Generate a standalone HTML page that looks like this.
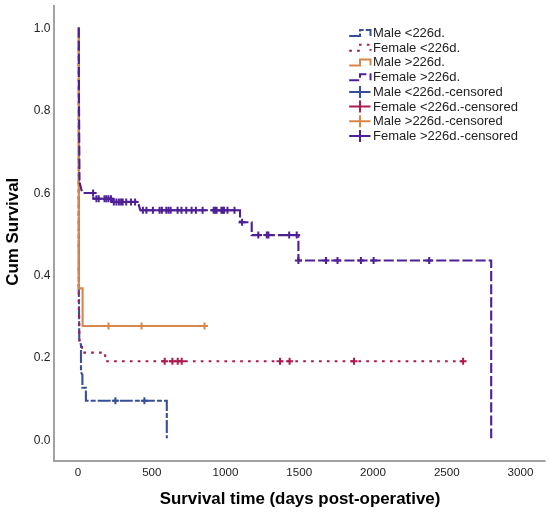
<!DOCTYPE html>
<html><head><meta charset="utf-8"><title>Survival Functions</title>
<style>
html,body{margin:0;padding:0;background:#fff;}
body{width:550px;height:513px;overflow:hidden;}
svg{display:block;}
.tk{font-family:"Liberation Sans",Arial,sans-serif;font-size:11.6px;fill:#222222;}
.tky{font-family:"Liberation Sans",Arial,sans-serif;font-size:12px;fill:#222222;}
.lg{font-family:"Liberation Sans",Arial,sans-serif;font-size:13px;fill:#222;}
.ttl{font-family:"Liberation Sans",Arial,sans-serif;font-size:16.9px;font-weight:bold;fill:#000;}
</style></head>
<body>
<svg width="550" height="513" viewBox="0 0 550 513">
<rect width="550" height="513" fill="#fff"/>
<line x1="54" y1="5" x2="54" y2="461.9" stroke="#a2a2a2" stroke-width="2"/>
<line x1="53" y1="460.9" x2="545.6" y2="460.9" stroke="#a2a2a2" stroke-width="2"/>
<text x="50.4" y="443.5" text-anchor="end" class="tky">0.0</text>
<text x="50.4" y="361.2" text-anchor="end" class="tky">0.2</text>
<text x="50.4" y="278.9" text-anchor="end" class="tky">0.4</text>
<text x="50.4" y="196.7" text-anchor="end" class="tky">0.6</text>
<text x="50.4" y="114.4" text-anchor="end" class="tky">0.8</text>
<text x="50.4" y="32.1" text-anchor="end" class="tky">1.0</text>
<text x="78.0" y="476.3" text-anchor="middle" class="tk">0</text>
<text x="151.8" y="476.3" text-anchor="middle" class="tk">500</text>
<text x="225.5" y="476.3" text-anchor="middle" class="tk">1000</text>
<text x="299.2" y="476.3" text-anchor="middle" class="tk">1500</text>
<text x="373.0" y="476.3" text-anchor="middle" class="tk">2000</text>
<text x="446.8" y="476.3" text-anchor="middle" class="tk">2500</text>
<text x="520.5" y="476.3" text-anchor="middle" class="tk">3000</text>
<text x="300" y="504.2" text-anchor="middle" class="ttl">Survival time (days post-operative)</text>
<text transform="translate(18.3,231.7) rotate(-90)" text-anchor="middle" class="ttl">Cum Survival</text>
<path d="M78.8,27.6 V290 L79.3,340 L81,345 V372 L82.4,375 V387.7 H85.9 V400.8 H166.8 V438.2" stroke="#374f96" stroke-width="2.1" fill="none" stroke-dasharray="13 2.05 5 2.05" stroke-dashoffset="8.71"/>
<path d="M78.8,27.6 V300 L79.5,343 L82,346.8 V352.6 H105.2 V361.2 H463.1" stroke="#ad1a52" stroke-width="2.1" fill="none" stroke-dasharray="2.7 5.18" stroke-dashoffset="3.92"/>
<path d="M78.8,27.6 V288.4 H82.6 V326 H204.5" stroke="#d8874a" stroke-width="2.1" fill="none"/>
<path d="M78.8,27.6 L79.0,100 L79.5,180.5" stroke="#4e2096" stroke-width="2.1" fill="none" stroke-dasharray="10.1 3.02" stroke-dashoffset="0"/>
<path d="M79.6,182.5 L81.8,191.3" stroke="#4e2096" stroke-width="2.1" fill="none"/>
<path d="M83.6,193.0 H93.3 V198.7 H112 V201.9 H138 L140.2,210.2" stroke="#4e2096" stroke-width="2.1" fill="none" stroke-dasharray="10.1 3.02" stroke-dashoffset="0"/>
<path d="M140.2,210.2 H240 V222.2 H251.7 V235.1 H298.4 V260.5 H491.2 V438.2" stroke="#4e2096" stroke-width="2.1" fill="none" stroke-dasharray="10.1 3.02" stroke-dashoffset="7.94"/>
<path d="M111.9,400.8H118.9M115.4,397.3V404.3" stroke="#374f96" stroke-width="2.0" fill="none"/>
<path d="M140.9,400.8H147.9M144.4,397.3V404.3" stroke="#374f96" stroke-width="2.0" fill="none"/>
<path d="M161.2,361.2H168.2M164.7,357.7V364.7" stroke="#ad1a52" stroke-width="2.0" fill="none"/>
<path d="M168.9,361.2H175.9M172.4,357.7V364.7" stroke="#ad1a52" stroke-width="2.0" fill="none"/>
<path d="M174.2,361.2H181.2M177.7,357.7V364.7" stroke="#ad1a52" stroke-width="2.0" fill="none"/>
<path d="M178.2,361.2H185.2M181.7,357.7V364.7" stroke="#ad1a52" stroke-width="2.0" fill="none"/>
<path d="M276.5,361.2H283.5M280.0,357.7V364.7" stroke="#ad1a52" stroke-width="2.0" fill="none"/>
<path d="M286.1,361.2H293.1M289.6,357.7V364.7" stroke="#ad1a52" stroke-width="2.0" fill="none"/>
<path d="M350.5,361.2H357.5M354.0,357.7V364.7" stroke="#ad1a52" stroke-width="2.0" fill="none"/>
<path d="M459.6,361.2H466.6M463.1,357.7V364.7" stroke="#ad1a52" stroke-width="2.0" fill="none"/>
<path d="M105.0,326.0H112.0M108.5,322.5V329.5" stroke="#d8874a" stroke-width="2.0" fill="none"/>
<path d="M138.0,326.0H145.0M141.5,322.5V329.5" stroke="#d8874a" stroke-width="2.0" fill="none"/>
<path d="M201.0,326.0H208.0M204.5,322.5V329.5" stroke="#d8874a" stroke-width="2.0" fill="none"/>
<path d="M89.6,193.0H96.6M93.1,189.5V196.5" stroke="#4e2096" stroke-width="2.0" fill="none"/>
<path d="M92.9,198.7H99.9M96.4,195.2V202.2" stroke="#4e2096" stroke-width="2.0" fill="none"/>
<path d="M95.2,198.7H102.2M98.7,195.2V202.2" stroke="#4e2096" stroke-width="2.0" fill="none"/>
<path d="M101.0,198.7H108.0M104.5,195.2V202.2" stroke="#4e2096" stroke-width="2.0" fill="none"/>
<path d="M102.9,198.7H109.9M106.4,195.2V202.2" stroke="#4e2096" stroke-width="2.0" fill="none"/>
<path d="M105.0,198.7H112.0M108.5,195.2V202.2" stroke="#4e2096" stroke-width="2.0" fill="none"/>
<path d="M107.5,198.7H114.5M111.0,195.2V202.2" stroke="#4e2096" stroke-width="2.0" fill="none"/>
<path d="M110.3,201.9H117.3M113.8,198.4V205.4" stroke="#4e2096" stroke-width="2.0" fill="none"/>
<path d="M112.9,201.9H119.9M116.4,198.4V205.4" stroke="#4e2096" stroke-width="2.0" fill="none"/>
<path d="M115.4,201.9H122.4M118.9,198.4V205.4" stroke="#4e2096" stroke-width="2.0" fill="none"/>
<path d="M117.6,201.9H124.6M121.1,198.4V205.4" stroke="#4e2096" stroke-width="2.0" fill="none"/>
<path d="M119.2,201.9H126.2M122.7,198.4V205.4" stroke="#4e2096" stroke-width="2.0" fill="none"/>
<path d="M122.7,201.9H129.7M126.2,198.4V205.4" stroke="#4e2096" stroke-width="2.0" fill="none"/>
<path d="M127.5,201.9H134.5M131.0,198.4V205.4" stroke="#4e2096" stroke-width="2.0" fill="none"/>
<path d="M131.6,201.9H138.6M135.1,198.4V205.4" stroke="#4e2096" stroke-width="2.0" fill="none"/>
<path d="M139.4,210.2H146.4M142.9,206.7V213.7" stroke="#4e2096" stroke-width="2.0" fill="none"/>
<path d="M142.9,210.2H149.9M146.4,206.7V213.7" stroke="#4e2096" stroke-width="2.0" fill="none"/>
<path d="M149.4,210.2H156.4M152.9,206.7V213.7" stroke="#4e2096" stroke-width="2.0" fill="none"/>
<path d="M156.1,210.2H163.1M159.6,206.7V213.7" stroke="#4e2096" stroke-width="2.0" fill="none"/>
<path d="M158.4,210.2H165.4M161.9,206.7V213.7" stroke="#4e2096" stroke-width="2.0" fill="none"/>
<path d="M162.8,210.2H169.8M166.3,206.7V213.7" stroke="#4e2096" stroke-width="2.0" fill="none"/>
<path d="M165.0,210.2H172.0M168.5,206.7V213.7" stroke="#4e2096" stroke-width="2.0" fill="none"/>
<path d="M167.1,210.2H174.1M170.6,206.7V213.7" stroke="#4e2096" stroke-width="2.0" fill="none"/>
<path d="M174.1,210.2H181.1M177.6,206.7V213.7" stroke="#4e2096" stroke-width="2.0" fill="none"/>
<path d="M178.0,210.2H185.0M181.5,206.7V213.7" stroke="#4e2096" stroke-width="2.0" fill="none"/>
<path d="M182.8,210.2H189.8M186.3,206.7V213.7" stroke="#4e2096" stroke-width="2.0" fill="none"/>
<path d="M188.1,210.2H195.1M191.6,206.7V213.7" stroke="#4e2096" stroke-width="2.0" fill="none"/>
<path d="M192.4,210.2H199.4M195.9,206.7V213.7" stroke="#4e2096" stroke-width="2.0" fill="none"/>
<path d="M199.1,210.2H206.1M202.6,206.7V213.7" stroke="#4e2096" stroke-width="2.0" fill="none"/>
<path d="M210.2,210.2H217.2M213.7,206.7V213.7" stroke="#4e2096" stroke-width="2.0" fill="none"/>
<path d="M211.7,210.2H218.7M215.2,206.7V213.7" stroke="#4e2096" stroke-width="2.0" fill="none"/>
<path d="M213.1,210.2H220.1M216.6,206.7V213.7" stroke="#4e2096" stroke-width="2.0" fill="none"/>
<path d="M217.9,210.2H224.9M221.4,206.7V213.7" stroke="#4e2096" stroke-width="2.0" fill="none"/>
<path d="M219.3,210.2H226.3M222.8,206.7V213.7" stroke="#4e2096" stroke-width="2.0" fill="none"/>
<path d="M220.5,210.2H227.5M224.0,206.7V213.7" stroke="#4e2096" stroke-width="2.0" fill="none"/>
<path d="M224.0,210.2H231.0M227.5,206.7V213.7" stroke="#4e2096" stroke-width="2.0" fill="none"/>
<path d="M231.0,210.2H238.0M234.5,206.7V213.7" stroke="#4e2096" stroke-width="2.0" fill="none"/>
<path d="M238.6,222.2H245.6M242.1,218.7V225.7" stroke="#4e2096" stroke-width="2.0" fill="none"/>
<path d="M254.8,235.1H261.8M258.3,231.6V238.6" stroke="#4e2096" stroke-width="2.0" fill="none"/>
<path d="M263.3,235.1H270.3M266.8,231.6V238.6" stroke="#4e2096" stroke-width="2.0" fill="none"/>
<path d="M264.9,235.1H271.9M268.4,231.6V238.6" stroke="#4e2096" stroke-width="2.0" fill="none"/>
<path d="M285.7,235.1H292.7M289.2,231.6V238.6" stroke="#4e2096" stroke-width="2.0" fill="none"/>
<path d="M293.2,235.1H300.2M296.7,231.6V238.6" stroke="#4e2096" stroke-width="2.0" fill="none"/>
<path d="M294.9,260.5H301.9M298.4,257.0V264.0" stroke="#4e2096" stroke-width="2.0" fill="none"/>
<path d="M322.5,260.5H329.5M326.0,257.0V264.0" stroke="#4e2096" stroke-width="2.0" fill="none"/>
<path d="M334.0,260.5H341.0M337.5,257.0V264.0" stroke="#4e2096" stroke-width="2.0" fill="none"/>
<path d="M357.4,260.5H364.4M360.9,257.0V264.0" stroke="#4e2096" stroke-width="2.0" fill="none"/>
<path d="M370.1,260.5H377.1M373.6,257.0V264.0" stroke="#4e2096" stroke-width="2.0" fill="none"/>
<path d="M425.7,260.5H432.7M429.2,257.0V264.0" stroke="#4e2096" stroke-width="2.0" fill="none"/>
<path d="M349.2,36.1 H360.0 V30.0 H370.5 V36.1" stroke="#374f96" stroke-width="2" fill="none" stroke-dasharray="13.3 2.2 5 2.2"/>
<text x="373" y="37.0" class="lg">Male <226d.</text>
<path d="M349.2,50.8 H360.0 V44.7 H370.5 V50.8" stroke="#ad1a52" stroke-width="2" fill="none" stroke-dasharray="2.7 5.2"/>
<text x="373" y="51.7" class="lg">Female <226d.</text>
<path d="M349.2,65.5 H360.0 V59.4 H370.5 V65.5" stroke="#d8874a" stroke-width="2" fill="none"/>
<text x="373" y="66.4" class="lg">Male >226d.</text>
<path d="M349.2,80.3 H360.0 V74.2 H370.5 V80.3" stroke="#4e2096" stroke-width="2" fill="none" stroke-dasharray="10 3.3"/>
<text x="373" y="81.2" class="lg">Female >226d.</text>
<path d="M349.2,91.9 H370.5 M360.0,85.9 V97.9" stroke="#374f96" stroke-width="2" fill="none"/>
<text x="373" y="95.9" class="lg">Male <226d.-censored</text>
<path d="M349.2,106.6 H370.5 M360.0,100.6 V112.6" stroke="#ad1a52" stroke-width="2" fill="none"/>
<text x="373" y="110.6" class="lg">Female <226d.-censored</text>
<path d="M349.2,121.3 H370.5 M360.0,115.3 V127.3" stroke="#d8874a" stroke-width="2" fill="none"/>
<text x="373" y="125.3" class="lg">Male >226d.-censored</text>
<path d="M349.2,136.0 H370.5 M360.0,130.0 V142.0" stroke="#4e2096" stroke-width="2" fill="none"/>
<text x="373" y="140.0" class="lg">Female >226d.-censored</text>
</svg>
</body></html>
